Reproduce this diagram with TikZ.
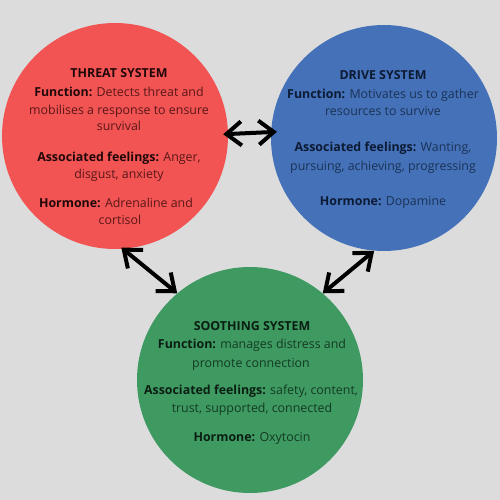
\documentclass[tikz,border=0pt]{standalone}
\usepackage{fontspec}
\setmainfont{Open Sans}
\usetikzlibrary{arrows.meta}
\definecolor{bg}{HTML}{DCDCDC}
\definecolor{redc}{HTML}{F25454}
\definecolor{bluec}{HTML}{4471B8}
\definecolor{greenc}{HTML}{3F9A62}
\definecolor{rtxt}{HTML}{5A1717}
\definecolor{rbold}{HTML}{210808}
\definecolor{btxt}{HTML}{1B3356}
\definecolor{bbold}{HTML}{0C1A33}
\definecolor{gtxt}{HTML}{143A23}
\definecolor{gbold}{HTML}{0A1E12}
\begin{document}
\begin{tikzpicture}[x=1pt,y=-1pt,
  sys/.style={circle,inner sep=0pt,draw=none},
  txt/.style={anchor=base,inner sep=0pt,font=\fontsize{12.4}{15}\selectfont},
  link/.style={line width=4pt,line cap=round,line join=round,
    {Straight Barb[length=15pt,width=24pt]}-{Straight Barb[length=15pt,width=24pt]}}]
\useasboundingbox[fill=bg] (0,0) rectangle (500,500);
\node[sys,fill=redc,minimum size=226pt] (red) at (115,136) {};
\node[sys,fill=bluec,minimum size=226pt] (blue) at (384,138) {};
\node[sys,fill=greenc,minimum size=226pt] (green) at (250,380) {};
% red text
\begin{scope}[txt/.append style={text=rtxt}]
\node[txt,text=rbold] (r1) at (119,78) {\bfseries THREAT SYSTEM};
\node[txt] (r2) at (119,97) {\textcolor{rbold}{\bfseries Function:} Detects threat and};
\node[txt] (r3) at (119,114) {mobilises a response to ensure};
\node[txt] (r4) at (119,131) {survival};
\node[txt] (r5) at (119,161) {\textcolor{rbold}{\bfseries Associated feelings:} Anger,};
\node[txt] (r6) at (119,178) {disgust, anxiety};
\node[txt] (r7) at (116,207) {\textcolor{rbold}{\bfseries Hormone:} Adrenaline and};
\node[txt] (r8) at (120,224) {cortisol};
\end{scope}
% blue text
\begin{scope}[txt/.append style={text=btxt}]
\node[txt,text=bbold] (b1) at (383,80) {\bfseries DRIVE SYSTEM};
\node[txt] (b2) at (383,99) {\textcolor{bbold}{\bfseries Function:} Motivates us to gather};
\node[txt] (b3) at (383,116) {resources to survive};
\node[txt] (b4) at (383,151) {\textcolor{bbold}{\bfseries Associated feelings:} Wanting,};
\node[txt] (b5) at (383,170) {pursuing, achieving, progressing};
\node[txt] (b6) at (383,205) {\textcolor{bbold}{\bfseries Hormone:} Dopamine};
\end{scope}
% green text
\begin{scope}[txt/.append style={text=gtxt}]
\node[txt,text=gbold] (g1) at (252,330) {\bfseries SOOTHING SYSTEM};
\node[txt] (g2) at (252,348) {\textcolor{gbold}{\bfseries Function:} manages distress and};
\node[txt] (g3) at (251,367) {promote connection};
\node[txt] (g4) at (251,394) {\textcolor{gbold}{\bfseries Associated feelings:} safety, content,};
\node[txt] (g5) at (252,412) {trust, supported, connected};
\node[txt] (g6) at (252,441) {\textcolor{gbold}{\bfseries Hormone:} Oxytocin};
\end{scope}
% connectors
\draw[link,shorten <=-5pt,shorten >=-6pt] (red.1.5) -- (blue.177.5);
\draw[link,shorten <=-2pt] (red.-86.5) -- (green.130.3);
\draw[link] (blue.-95) -- (green.50.9);
\end{tikzpicture}
\end{document}
